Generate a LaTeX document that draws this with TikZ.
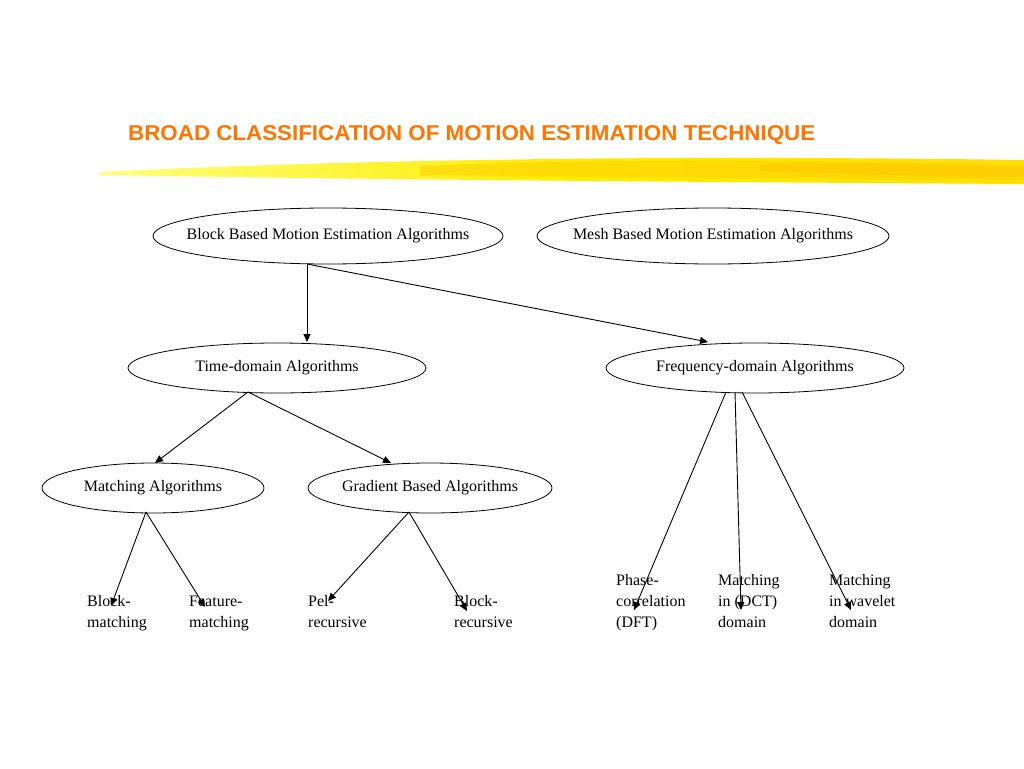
\documentclass[tikz,border=0pt]{standalone}
\usepackage{fontspec}
\setmainfont{Liberation Serif}
\newfontfamily\titlefont{Liberation Sans}
\usetikzlibrary{arrows.meta,shapes.geometric}
\begin{document}
\begin{tikzpicture}[x=1pt,y=-1pt,
  ov/.style={inner sep=0pt,font=\fontsize{16}{18}\selectfont},
  ell/.style={line width=0.8pt},
  leaf/.style={anchor=base west,align=left,inner sep=0pt,font=\fontsize{16}{21}\selectfont},
  arr/.style={-{Triangle[length=8pt,width=7pt]},line width=0.9pt}]
\useasboundingbox (0,0) rectangle (1024,768);
\fill[white] (0,0) rectangle (1024,768);
% brush stroke
\shade[left color=yellow!50!white,right color=yellow!75!orange,middle color=yellow!85!orange]
  (100,172) .. controls (300,162) and (600,154) .. (1024,160) -- (1024,184) .. controls (700,182) and (400,180) .. (100,175) -- cycle;
\fill[yellow!70!orange,opacity=0.6] (420,166) .. controls (600,158) and (900,160) .. (1024,166) -- (1024,180) .. controls (800,178) and (600,177) .. (420,175) -- cycle;
\fill[orange!50!yellow,opacity=0.35] (760,164) .. controls (850,162) and (950,164) .. (1024,168) -- (1024,177) .. controls (900,176) and (820,173) .. (760,171) -- cycle;
\node[anchor=west,inner sep=0pt,text=orange!80!red!90!yellow] (title) at (128,135)
  {\resizebox{687pt}{15pt}{\titlefont\bfseries BROAD CLASSIFICATION OF MOTION ESTIMATION TECHNIQUE}};
% ellipses
\node[ov] (bb) at (328,236) {Block Based Motion Estimation Algorithms};
\node[ov] (mb) at (713,236) {Mesh Based Motion Estimation Algorithms};
\node[ov] (td) at (277,368) {Time-domain Algorithms};
\node[ov] (fd) at (755,368) {Frequency-domain Algorithms};
\node[ov] (ma) at (153,488) {Matching Algorithms};
\node[ov] (ga) at (430,488) {Gradient Based Algorithms};
\draw[ell] (bb.center) ellipse (175 and 28);
\draw[ell] (mb.center) ellipse (176 and 28);
\draw[ell] (td.center) ellipse (149 and 25);
\draw[ell] (fd.center) ellipse (149 and 25);
\draw[ell] (ma.center) ellipse (111 and 25);
\draw[ell] (ga.center) ellipse (122 and 25);
% leaves
\node[leaf] (l1) at (87,627) {Block-\\matching};
\node[leaf] (l2) at (189,627) {Feature-\\matching};
\node[leaf] (l3) at (308,627) {Pel-\\recursive};
\node[leaf] (l4) at (454,627) {Block-\\recursive};
\node[leaf] (l5) at (616,627) {Phase-\\correlation\\(DFT)};
\node[leaf] (l6) at (718,627) {Matching\\in (DCT)\\domain};
\node[leaf] (l7) at (829,627) {Matching\\in wavelet\\domain};
% coordinates
\coordinate (bbs) at (307,264);
\coordinate (tds) at (248,392);
\coordinate (mas) at (146,512);
\coordinate (gas) at (409,512);
\coordinate (fa) at (726,392);
\coordinate (fb) at (735,392);
\coordinate (fc) at (742,392);
\coordinate (e1) at (111,606);
\coordinate (e2) at (205,607);
\coordinate (e3) at (328,601);
\coordinate (e4) at (467,611);
\coordinate (e5) at (634,610);
\coordinate (e6) at (741,610);
\coordinate (e7) at (851,610);
\draw[arr] (bbs) -- (307,342);
\draw[arr] (bbs) -- (708,342);
\draw[arr] (tds) -- (155,463);
\draw[arr] (tds) -- (391,463);
\draw[arr] (mas) -- (e1);
\draw[arr] (mas) -- (e2);
\draw[arr] (gas) -- (e3);
\draw[arr] (gas) -- (e4);
\draw[arr] (fa) -- (e5);
\draw[arr] (fb) -- (e6);
\draw[arr] (fc) -- (e7);
\end{tikzpicture}
\end{document}
